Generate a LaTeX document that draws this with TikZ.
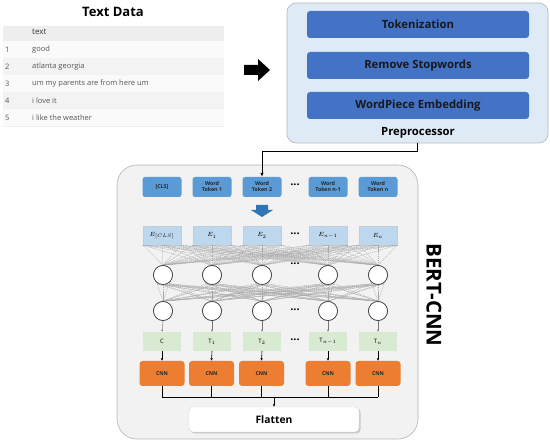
\documentclass[tikz,border=0pt]{standalone}
\usepackage{fontspec}
\setmainfont{Open Sans}
\usetikzlibrary{arrows.meta,calc}
\definecolor{tabgray}{HTML}{EEEEEE}
\definecolor{tabwhite}{HTML}{FAFAFA}
\definecolor{tabtext}{HTML}{555555}
\definecolor{prefill}{HTML}{DEEBF7}
\definecolor{boxborder}{HTML}{B4B4B4}
\definecolor{barblue}{HTML}{4472C4}
\definecolor{tokblue}{HTML}{5B9BD5}
\definecolor{embblue}{HTML}{BDD7EE}
\definecolor{tgreen}{HTML}{D9EAD3}
\definecolor{cnnorange}{HTML}{ED7D31}
\definecolor{arrblue}{HTML}{2E75B6}
\definecolor{bertfill}{HTML}{F2F2F2}
\definecolor{meshgray}{HTML}{A8A8A8}
\tikzset{
  bar/.style={draw=none,fill=barblue,rounded corners=3pt,minimum width=222pt,minimum height=27pt,inner sep=0pt,font=\bfseries\fontsize{11.3}{12}\selectfont,text=black!90},
  tok/.style={draw=none,fill=tokblue,rounded corners=2.5pt,minimum width=39pt,minimum height=20pt,inner sep=0pt,align=center,font=\bfseries\fontsize{5.3}{6}\selectfont,text=black!85},
  emb/.style={draw=embblue!80!black!60,fill=embblue,line width=0.3pt,minimum width=38pt,minimum height=19pt,inner sep=0pt,font=\fontsize{6}{7}\selectfont},
  neur/.style={circle,draw=black!80,fill=white,line width=0.6pt,minimum size=19pt,inner sep=0pt},
  tbox/.style={fill=tgreen,draw=none,minimum width=38pt,minimum height=19pt,inner sep=0pt,font=\fontsize{6}{7}\selectfont},
  cnnbox/.style={draw=none,fill=cnnorange,rounded corners=3pt,minimum width=45pt,minimum height=25pt,inner sep=0pt,font=\bfseries\fontsize{5.3}{6}\selectfont,text=black!85},
  mesh/.style={draw=meshgray,line width=0.3pt,dash pattern=on 1.5pt off 0.6pt},
  dotsl/.style={font=\bfseries\fontsize{11}{11}\selectfont,inner sep=0pt},
  tabtxt/.style={anchor=west,inner sep=0pt,font=\fontsize{7.5}{8}\selectfont,text=tabtext},
}
\begin{document}
\begin{tikzpicture}[x=1pt,y=-1pt]
\useasboundingbox (0,0) rectangle (550,443);
% ---------- Text data table ----------
\node[font=\bfseries\fontsize{13}{14}\selectfont] (title) at (113,12) {Text Data};
\fill[tabgray] (3,26) rectangle (224,41);
\fill[tabwhite] (3,41) rectangle (224,58);
\fill[tabgray!70!white] (3,58) rectangle (224,75);
\fill[tabwhite] (3,75) rectangle (224,92);
\fill[tabgray!70!white] (3,92) rectangle (224,109);
\fill[tabwhite] (3,109) rectangle (224,126);
\draw[tabgray,line width=0.5pt] (3,126) -- (224,126);
\node[tabtxt,text=black!80,font=\fontsize{8}{9}\selectfont] (h) at (32,32) {text};
\node[tabtxt] (r1i) at (5,50) {1};
\node[tabtxt] (r1t) at (32,50) {good};
\node[tabtxt] (r2i) at (5,67) {2};
\node[tabtxt] (r2t) at (32,67) {atlanta georgia};
\node[tabtxt] (r3i) at (5,84) {3};
\node[tabtxt] (r3t) at (32,84) {um my parents are from here um};
\node[tabtxt] (r4i) at (5,101) {4};
\node[tabtxt] (r4t) at (32,101) {i love it};
\node[tabtxt] (r5i) at (5,118) {5};
\node[tabtxt] (r5t) at (32,118) {i like the weather};
% ---------- black block arrow ----------
\fill[black] (244,65) -- (258,65) -- (258,59) -- (270,70) -- (258,81) -- (258,75) -- (244,75) -- cycle;
% ---------- Preprocessor ----------
\node[draw=boxborder,fill=prefill,rounded corners=9pt,line width=0.6pt,minimum width=261pt,minimum height=140pt,inner sep=0pt] (pre) at (417.5,73) {};
\node[bar] (tokz) at (418,24.5) {Tokenization};
\node[bar] (stop) at (418,65.5) {Remove Stopwords};
\node[bar] (wpe) at (418,105.5) {WordPiece Embedding};
\node[font=\bfseries\fontsize{11.3}{12}\selectfont] (prel) at (418,133) {Preprocessor};
% ---------- BERT-CNN box ----------
\node[draw=boxborder,fill=bertfill,rounded corners=20pt,line width=0.6pt,minimum width=301pt,minimum height=274pt,inner sep=0pt] (bert) at (267.5,302) {};
\node[rotate=-90,font=\bfseries\fontsize{20.5}{21}\selectfont] (bertl) at (434,295) {BERT-CNN};
% tokens
\node[tok] (t0) at (162,187) {[CLS]};
\node[tok] (t1) at (212,187) {Word\\Token 1};
\node[tok] (t2) at (262,187) {Word\\Token 2};
\node[tok] (t3) at (328,187) {Word\\Token n-1};
\node[tok] (t4) at (378,187) {Word\\Token n};
\node[dotsl] (d0) at (295,185) {...};
% connector from preprocessor
\draw[line width=1pt,-{Latex[length=4pt,width=3.5pt]}] (pre.south) -- ++(0,8) -| (t2.north);
% blue block arrow
\fill[arrblue] (256,205) -- (268,205) -- (268,210) -- (273,210) -- (262,217) -- (251,210) -- (256,210) -- cycle;
% embeddings
\node[emb] (e0) at (162,235.5) {$E_{[CLS]}$};
\node[emb] (e1) at (212,235.5) {$E_1$};
\node[emb] (e2) at (262,235.5) {$E_2$};
\node[emb] (e3) at (328,235.5) {$E_{n-1}$};
\node[emb] (e4) at (378,235.5) {$E_n$};
\node[dotsl] (d1) at (295,234) {...};
% neurons
\foreach \i/\x in {0/163,1/212,2/262,3/328,4/378}{
  \node[neur] (a\i) at (\x,275) {};
  \node[neur] (b\i) at (\x,311) {};
}
% mesh
\foreach \i in {0,...,4}{
  \foreach \j in {0,...,4}{
    \draw[mesh] (e\i.south west) -- (a\j.north);
    \draw[mesh] (e\i.south) -- (a\j.north);
    \draw[mesh] (e\i.south east) -- (a\j.north);
    \draw[mesh] (a\i.south) -- (b\j.north);
    \draw[mesh] ($(a\i.south)+(-6,-1)$) -- (b\j.north);
    \draw[mesh] ($(a\i.south)+(6,-1)$) -- (b\j.north);
  }
}
% redraw neurons on top
\foreach \i/\x in {0/163,1/212,2/262,3/328,4/378}{
  \node[neur] at (\x,275) {};
  \node[neur] at (\x,311) {};
}
\node[dotsl] (d2) at (295,264) {...};
\node[dotsl] (d3) at (295,310) {...};
% T boxes
\node[tbox] (c0) at (162,341.5) {C};
\node[tbox] (c1) at (212,341.5) {T$_1$};
\node[tbox] (c2) at (262,341.5) {T$_2$};
\node[tbox] (c3) at (328,341.5) {T$_{n-1}$};
\node[tbox] (c4) at (378,341.5) {T$_n$};
\node[dotsl] (d4) at (295,340) {...};
% CNN boxes
\node[cnnbox] (n0) at (162,373.5) {CNN};
\node[cnnbox] (n1) at (211.5,373.5) {CNN};
\node[cnnbox] (n2) at (261.5,373.5) {CNN};
\node[cnnbox] (n3) at (328,373.5) {CNN};
\node[cnnbox] (n4) at (378,373.5) {CNN};
\foreach \i in {0,...,4}{
  \draw[draw=black!55,line width=0.4pt,-{Latex[length=2pt,width=2pt]}] (b\i.south) -- (c\i.north);
  \draw[line width=0.6pt,-{Latex[length=2.5pt,width=2.5pt]}] (c\i.south) -- (n\i.north);
}
% Flatten
\coordinate (jn) at (274,397);
\fill[black!22,rounded corners=4pt] (190.5,408.5) rectangle (360.5,433.5);
\node[draw=black!15,fill=white,rounded corners=4pt,minimum width=170pt,minimum height=25pt,inner sep=0pt,font=\bfseries\fontsize{10.3}{11}\selectfont] (fl) at (274,419.5) {Flatten};
\foreach \i in {0,...,4}{
  \draw[line width=0.6pt] (n\i.south) -- (n\i.south |- jn);
}
\draw[line width=0.6pt] (n0.south |- jn) -- (n4.south |- jn);
\draw[line width=0.6pt,-{Latex[length=2.5pt,width=2.5pt]}] (jn) -- (fl.north);
\end{tikzpicture}
\end{document}
